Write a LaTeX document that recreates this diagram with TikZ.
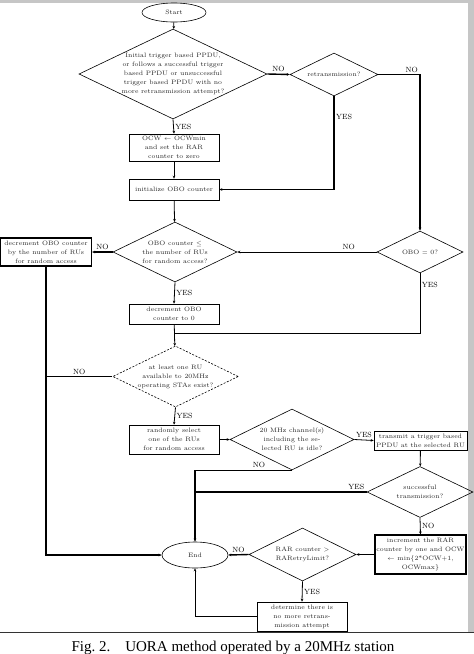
\documentclass[tikz,border=0pt]{standalone}
\usepackage{fontspec}
\newfontfamily\capfont{Liberation Serif}
\usetikzlibrary{arrows.meta, shapes.geometric}

\begin{document}
\begin{tikzpicture}[
    x=1pt, y=-1pt,
    every node/.style = {font=\fontsize{6.4}{9}\selectfont, text=black!85},
    dec/.style  = {diamond, draw, line width=0.6pt, inner sep=0pt, shape aspect=2.1, align=center},
    box/.style  = {rectangle, draw, line width=0.6pt, inner sep=1pt, minimum width=90pt, align=center},
    term/.style = {ellipse, draw, line width=0.6pt, inner sep=0pt},
    lbl/.style  = {font=\fontsize{7.5}{9}\selectfont, text=black, inner sep=1.5pt},
    conn/.style = {draw, line width=0.8pt},
    arr/.style  = {conn, -{Stealth[length=3pt, width=2.6pt]}},
    thk/.style  = {line width=1.4pt},
]

\useasboundingbox (0,0) rectangle (474,654);

%% ---- Frame of the page ----

\fill[gray!45] (0,0) rectangle (474,2.5);
\fill[gray!45] (468,0) rectangle (474,633);
\draw[black!80, line width=1.6pt] (0,632.5) -- (474,632.5);

%% ---- Terminals ----

\node[term, minimum width=64pt, minimum height=19pt] (start) at (174,12.5) {Start};
\node[term, minimum width=66pt, minimum height=26pt] (end)   at (195,555)  {End};

%% ---- Decisions ----

\node[dec, minimum width=188pt, minimum height=90pt, inner xsep=-8pt, inner ysep=-5pt] (first) at (173,74)
    {Initial trigger based PPDU,\\ or follows a successful trigger\\ based PPDU or unsuccessful\\
     trigger based PPDU with no\\ more retransmission attempt?};
\node[dec, minimum width=88pt, minimum height=43pt] (retx) at (334,74.5) {retransmission?};
\node[dec, minimum width=124pt, minimum height=60pt] (obole) at (175,252)
    {OBO counter $\leq$\\ the number of RUs\\ for random access?};
\node[dec, minimum width=86pt, minimum height=42pt] (obozero) at (420,252) {OBO $=$ 0?};
\node[dec, dashed, dash pattern=on 2pt off 1.5pt, minimum width=125pt, minimum height=61pt] (ruok) at (175.5,376.5)
    {at least one RU\\ available to 20MHz\\ operating STAs exist?};
\node[dec, minimum width=124pt, minimum height=61pt] (idle) at (292,439.5)
    {20 MHz channel(s)\\ including the se-\\ lected RU is idle?};
\node[dec, minimum width=106pt, minimum height=51pt] (succ) at (420,492) {successful\\ transmission?};
\node[dec, minimum width=107pt, minimum height=53pt] (rar) at (302.5,554.5) {RAR counter $>$\\ RARetryLimit?};

%% ---- Process boxes ----

\node[box, minimum height=27pt] (ocw)  at (174,147.5) {OCW $\leftarrow$ OCWmin\\ and set the RAR\\ counter to zero};
\node[box, minimum height=21pt] (init) at (174,189.5) {initialize OBO counter};
\node[box, minimum height=28pt, minimum width=91pt, line width=1.2pt] (decby) at (46,252)
    {decrement OBO counter\\ by the number of RUs\\ for random access};
\node[box, minimum height=20pt] (deczero) at (174,314) {decrement OBO\\ counter to 0};
\node[box, minimum height=29pt] (pick) at (174,439.5) {randomly select\\ one of the RUs\\ for random access};
\node[box, minimum height=19pt, minimum width=93pt] (tx) at (420.5,440.5)
    {transmit a trigger based\\ PPDU at the selected RU};
\node[box, minimum height=39pt, minimum width=91pt, line width=1.2pt] (incr) at (420.5,554.5)
    {increment the RAR\\ counter by one and OCW\\ $\leftarrow$ min\{2*OCW$+$1,\\ OCWmax\}};
\node[box, minimum height=29pt] (nomore) at (302,616.5)
    {determine there is\\ no more retrans-\\ mission attempt};

%% ---- Connectors ----

\draw[arr] (start) -- (first);
\draw[arr, thk] (first.east) -- node[lbl, above] {NO} (retx.west);
\draw[arr, thk] (retx.east) -| node[lbl, pos=0.5, above left] {NO} (obozero.north);
\draw[arr, thk] (retx.south) |- node[lbl, pos=0.11, right] {YES} (init.east);
\draw[arr] (first.south) -- node[lbl, right] {YES} (ocw.north);
\draw[arr] (ocw) -- (init);
\draw[arr] (init) -- (obole);

\draw[arr, thk] (obole.west) -- node[lbl, above] {NO} (decby.east);
\draw[arr] (obozero.west) -- node[lbl, pos=0.2, above] {NO} (obole.east);
\draw[arr] (obole.south) -- node[lbl, right] {YES} (deczero.north);
\draw[conn] (obozero.south) |- node[lbl, pos=0.1, right] {YES} (deczero.south |- 0,333);
\draw[arr] (deczero) -- (ruok);

\draw[conn, thk] (ruok.west) -- node[lbl, above] {NO} (ruok.west -| decby.south);
\draw[arr, thk] (decby.south) |- (end.west);
\draw[arr] (ruok.south) -- node[lbl, right] {YES} (pick.north);
\draw[arr] (pick) -- (idle);

\draw[arr] (idle.east) -- node[lbl, above] {YES} (tx.west);
\draw[arr, thk] (idle.south) -| node[lbl, pos=0.17, above] {NO} (end.north);
\draw[arr] (tx) -- (succ);
\draw[conn, thk] (succ.west) -- node[lbl, pos=0.06, above] {YES} (succ.west -| end.north);
\draw[arr] (succ.south) -- node[lbl, right] {NO} (incr.north);

\draw[arr, thk] (incr) -- (rar);
\draw[arr, thk] (rar.west) -- node[lbl, above] {NO} (end.east);
\draw[arr] (rar.south) -- node[lbl, right] {YES} (nomore.north);
\draw[arr] (nomore.west) -| (end.south);

%% ---- Caption ----

\node[anchor=north, inner sep=0pt, font=\capfont\fontsize{15}{18}\selectfont, text=black] (cap) at (233,641)
    {Fig.~2.\quad UORA method operated by a 20MHz station};

\end{tikzpicture}
\end{document}
